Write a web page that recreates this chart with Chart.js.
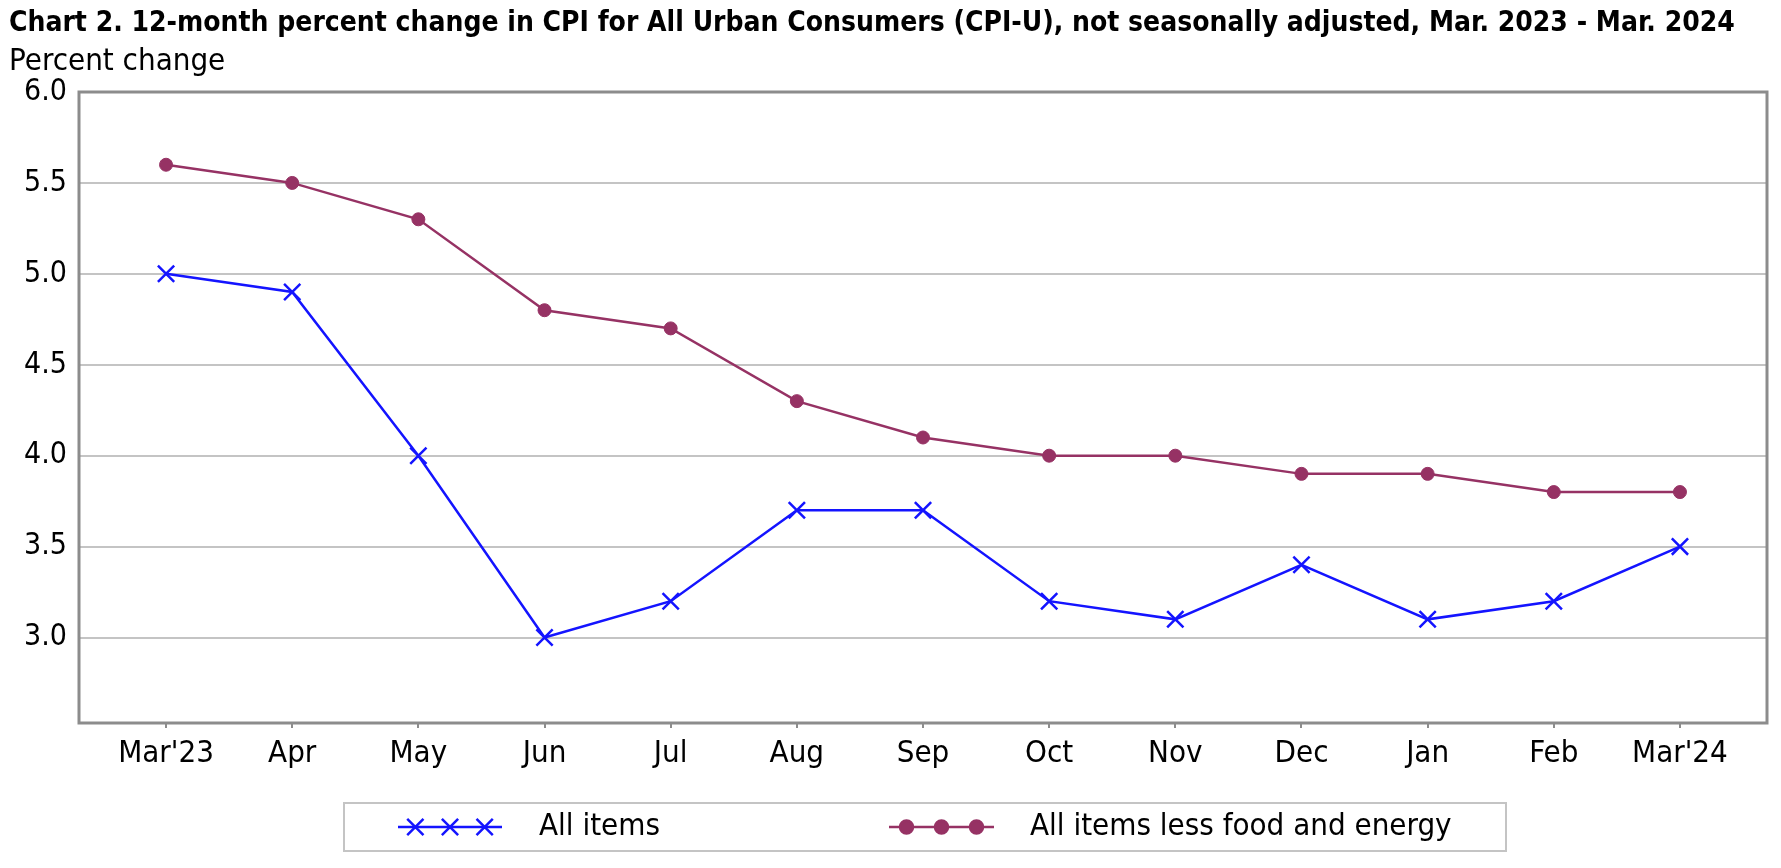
<!DOCTYPE html>
<html>
<head>
<meta charset="utf-8">
<script src="https://cdn.jsdelivr.net/npm/chart.js@4/dist/chart.umd.min.js"></script>
<style>
  html, body { margin: 0; padding: 0; background: #fff; }
  canvas { display: block; }
</style>
</head>
<body>
<canvas id="cpi" width="1781" height="868"></canvas>
<script>
const months = ["Mar'23", 'Apr', 'May', 'Jun', 'Jul', 'Aug', 'Sep', 'Oct', 'Nov', 'Dec', 'Jan', 'Feb', "Mar'24"]
const allItems = [5.0, 4.9, 4.0, 3.0, 3.2, 3.7, 3.7, 3.2, 3.1, 3.4, 3.1, 3.2, 3.5]
const coreItems = [5.6, 5.5, 5.3, 4.8, 4.7, 4.3, 4.1, 4.0, 4.0, 3.9, 3.9, 3.8, 3.8]
const yTicks = [3.0, 3.5, 4.0, 4.5, 5.0, 5.5, 6.0]
const seriesNames = ['All items', 'All items less food and energy']

const titleText = 'Chart 2. 12-month percent change in CPI for All Urban Consumers (CPI-U), not seasonally adjusted, Mar. 2023 - Mar. 2024'
const unitText = 'Percent change'

const BLUE = '#1414ff'
const MAROON = '#963264'
const FONT = '"DejaVu Sans Condensed", "DejaVu Sans", sans-serif'

// titles, plot frame and the boxed legend
const decorations = {
    id: 'decorations',
    beforeDatasetsDraw(chart) {
        const ctx = chart.ctx
        const a = chart.chartArea
        ctx.save()
        ctx.strokeStyle = '#8c8c8c'
        ctx.lineWidth = 3
        ctx.strokeRect(a.left, a.top, a.right - a.left, a.bottom - a.top)
        ctx.restore()
    },
    afterDraw(chart) {
        const ctx = chart.ctx
        ctx.save()
        ctx.fillStyle = '#000'
        ctx.textBaseline = 'alphabetic'
        ctx.textAlign = 'left'
        ctx.font = 'bold 28px ' + FONT
        ctx.fillText(titleText, 9, 31)
        ctx.font = '31px ' + FONT
        ctx.fillText(unitText, 9, 70)

        // legend box
        ctx.strokeStyle = '#c4c4c4'
        ctx.lineWidth = 2
        ctx.strokeRect(344, 803, 1162, 48)

        const items = [
            {x0: 398, x1: 502, tx: 539, ds: chart.data.datasets[0]},
            {x0: 889, x1: 994, tx: 1030, ds: chart.data.datasets[1]}
        ]
        const cy = 827
        items.forEach(it => {
            ctx.strokeStyle = it.ds.borderColor
            ctx.lineWidth = it.ds.borderWidth
            ctx.beginPath()
            ctx.moveTo(it.x0, cy)
            ctx.lineTo(it.x1, cy)
            ctx.stroke()
            const step = (it.x1 - it.x0) / 6
            for (let k = 0; k < 3; k++) {
                const px = it.x0 + step * (1 + 2 * k)
                ctx.fillStyle = it.ds.pointBackgroundColor
                Chart.helpers.drawPoint(ctx, {
                    pointStyle: it.ds.pointStyle,
                    radius: it.ds.pointRadius,
                    borderWidth: it.ds.pointBorderWidth,
                    rotation: 0
                }, px, cy)
            }
            ctx.fillStyle = '#000'
            ctx.font = '31px ' + FONT
            ctx.textBaseline = 'middle'
            ctx.fillText(it.ds.label, it.tx, cy)
        })
        ctx.restore()
    }
}

const config = {
    type: 'line',
    data: {
        datasets: [
            {
                label: seriesNames[0],
                data: allItems.map((v, i) => ({x: i, y: v})),
                borderColor: BLUE,
                backgroundColor: BLUE,
                pointBackgroundColor: BLUE,
                pointBorderColor: BLUE,
                borderWidth: 2.5,
                pointStyle: 'crossRot',
                pointRadius: 11.5,
                pointBorderWidth: 2.5,
                tension: 0
            },
            {
                label: seriesNames[1],
                data: coreItems.map((v, i) => ({x: i, y: v})),
                borderColor: MAROON,
                backgroundColor: MAROON,
                pointBackgroundColor: MAROON,
                pointBorderColor: MAROON,
                borderWidth: 2.5,
                pointStyle: 'circle',
                pointRadius: 6.5,
                pointBorderWidth: 1,
                tension: 0
            }
        ]
    },
    options: {
        responsive: false,
        animation: false,
        devicePixelRatio: 1,
        layout: {
            padding: {left: 0, right: 13, top: 92, bottom: 0}
        },
        plugins: {
            legend: {display: false},
            tooltip: {enabled: false},
            title: {display: false}
        },
        scales: {
            x: {
                type: 'linear',
                min: -0.69,
                max: 12.69,
                afterBuildTicks: scale => {
                    scale.ticks = months.map((_, i) => ({value: i}))
                },
                afterFit: scale => {
                    scale.height = 868 - 723
                },
                grid: {
                    drawOnChartArea: false,
                    color: '#8c8c8c',
                    lineWidth: 2,
                    tickLength: 5
                },
                border: {display: false},
                ticks: {
                    autoSkip: false,
                    maxRotation: 0,
                    padding: 7,
                    color: '#000',
                    font: {family: FONT, size: 31},
                    callback: v => months[v]
                }
            },
            y: {
                min: 2.53,
                max: 6.0,
                afterBuildTicks: scale => {
                    scale.ticks = yTicks.map(v => ({value: v}))
                },
                afterFit: scale => {
                    scale.width = 79
                },
                grid: {
                    color: '#c4c4c4',
                    lineWidth: 2,
                    drawTicks: false
                },
                border: {display: false},
                ticks: {
                    padding: 12,
                    color: '#000',
                    font: {family: FONT, size: 30},
                    callback: v => v.toFixed(1)
                }
            }
        }
    },
    plugins: [decorations]
}

new Chart(document.getElementById('cpi'), config)
</script>
</body>
</html>
